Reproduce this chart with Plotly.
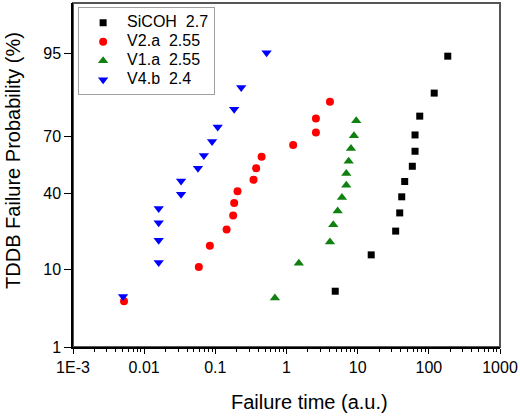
import plotly.graph_objects as go
from statistics import NormalDist

# ---- data (failure time in a.u., cumulative failure probability in %) ----
sicoh_t = [4.84, 15.5, 34.2, 39.0, 41.6, 45.8, 58.6, 64.0, 64.0, 74.5, 119, 184.5]
sicoh_p = [5.8, 14.0, 22.4, 30.4, 38.4, 46.5, 54.7, 62.6, 70.6, 78.7, 86.6, 94.6]

v2a_t = [0.00521, 0.0586, 0.0838, 0.144, 0.178, 0.184, 0.205, 0.344, 0.375, 0.447, 1.24, 2.59, 2.59, 4.08]
v2a_p = [4.4, 10.7, 16.9, 23.1, 29.2, 35.3, 41.3, 47.4, 53.7, 59.7, 65.8, 71.7, 77.8, 83.9]

v1a_t = [0.687, 1.49, 4.08, 4.54, 5.23, 6.01, 6.92, 6.92, 7.47, 8.05, 8.87, 9.55]
v1a_p = [4.8, 11.6, 18.2, 25.0, 31.3, 38.1, 44.5, 50.8, 57.4, 64.0, 70.2, 76.8]

v4b_t = [0.00505, 0.016, 0.016, 0.016, 0.016, 0.033, 0.033, 0.057, 0.069, 0.090, 0.108, 0.184, 0.231, 0.525]
v4b_p = [5.0, 11.8, 18.9, 25.9, 32.5, 39.7, 46.8, 53.7, 60.4, 67.5, 74.2, 81.3, 88.2, 95.1]

names = ["SiCOH\u00a0\u00a02.7", "V2.a\u00a0\u00a02.55", "V1.a\u00a0\u00a02.55", "V4.b\u00a0\u00a02.4"]
x_ticks = [1e-3, 1e-2, 1e-1, 1, 10, 100, 1000]
x_ticktext = ["1E-3", "0.01", "0.1", "1", "10", "100", "1000"]
y_ticks_pct = [1, 10, 40, 70, 95]

nd = NormalDist()
def probit(p_list):
    return [nd.inv_cdf(p / 100.0) for p in p_list]

minor_x = [m * d for d in x_ticks[:-1] for m in range(2, 10)]

FONT = "Arial, Liberation Sans, sans-serif"

fig = go.Figure()
series = [
    (sicoh_t, sicoh_p, names[0], "square", "#000000", 7),
    (v2a_t, v2a_p, names[1], "circle", "#ff0000", 8),
    (v1a_t, v1a_p, names[2], "triangle-up", "#108010", 9),
    (v4b_t, v4b_p, names[3], "triangle-down", "#0000ff", 9),
]
for t, p, nm, sym, col, sz in series:
    fig.add_trace(go.Scatter(
        x=t, y=probit(p), mode="markers",
        name="<span style='font-size:16px'>" + nm + "</span>",
        marker=dict(symbol=sym, color=col, size=sz, line=dict(width=0)),
    ))

fig.update_layout(
    width=520, height=416,
    margin=dict(l=73, r=20, t=3, b=69),
    paper_bgcolor="white", plot_bgcolor="white",
    font=dict(family=FONT, size=16, color="black"),
    showlegend=True,
    legend=dict(
        x=0.012, y=0.9875, xanchor="left", yanchor="top",
        bgcolor="white", bordercolor="#a0a0a0", borderwidth=1,
        font=dict(family=FONT, size=12, color="black"),
        tracegroupgap=0, itemwidth=38,
    ),
    xaxis=dict(
        type="log", range=[-3, 3],
        tickvals=x_ticks, ticktext=x_ticktext,
        ticks="outside", ticklen=5, tickwidth=1, tickcolor="black",
        minor=dict(tickvals=minor_x, ticks="outside", ticklen=3, tickwidth=1,
                   tickcolor="black", showgrid=False),
        showline=True, linecolor="black", linewidth=1.5,
        showgrid=False, zeroline=False,
        tickfont=dict(size=16),
    ),
    yaxis=dict(
        range=[nd.inv_cdf(0.01), nd.inv_cdf(0.99)],
        tickvals=probit(y_ticks_pct), ticktext=[str(v) for v in y_ticks_pct],
        ticks="outside", ticklen=7, tickwidth=1, tickcolor="black",
        showline=True, linecolor="black", linewidth=1.5,
        showgrid=False, zeroline=False,
        tickfont=dict(size=16),
    ),
    shapes=[dict(type="rect", xref="paper", yref="paper", x0=0, y0=0, x1=1, y1=1,
                 line=dict(color="#555555", width=2), layer="below")],
    annotations=[
        dict(text="Failure time (a.u.)", xref="paper", yref="paper",
             x=0.554, y=-0.16, xanchor="center", yanchor="middle",
             showarrow=False, font=dict(family=FONT, size=20, color="black")),
        dict(text="TDDB Failure Probability (%)", xref="paper", yref="paper",
             x=-0.1405, y=0.541, xanchor="center", yanchor="middle", textangle=-90,
             showarrow=False, font=dict(family=FONT, size=20, color="black")),
    ],
)

fig.write_html("out.html")
